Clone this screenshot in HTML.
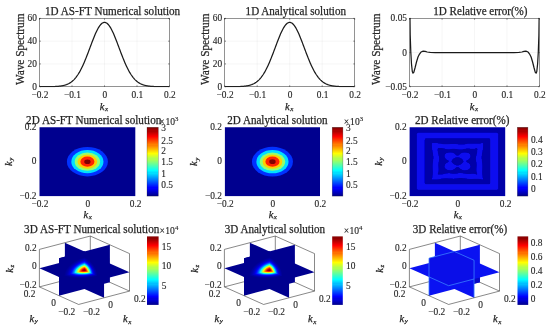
<!DOCTYPE html>
<html><head><meta charset="utf-8"><style>
html,body{margin:0;padding:0;background:#fff;}
svg{display:block;will-change:transform;}
text{font-family:"Liberation Serif",serif;fill:#262626;stroke:#262626;stroke-width:0.25px;}
text.tk{stroke-width:0.12px;}
</style></head><body>
<svg width="550" height="327" viewBox="0 0 550 327">
<defs><radialGradient id="blob" gradientUnits="userSpaceOnUse" cx="0" cy="0" r="0.7"><stop offset="0.0000" stop-color="#800000"/><stop offset="0.0250" stop-color="#940000"/><stop offset="0.0500" stop-color="#a80000"/><stop offset="0.0750" stop-color="#bc0000"/><stop offset="0.1000" stop-color="#d00000"/><stop offset="0.1250" stop-color="#f90000"/><stop offset="0.1500" stop-color="#ff2300"/><stop offset="0.1750" stop-color="#ff4c00"/><stop offset="0.2000" stop-color="#ff7500"/><stop offset="0.2250" stop-color="#ffa000"/><stop offset="0.2500" stop-color="#ffca00"/><stop offset="0.2750" stop-color="#fff400"/><stop offset="0.3000" stop-color="#e0ff1f"/><stop offset="0.3250" stop-color="#b6ff49"/><stop offset="0.3500" stop-color="#85ff7a"/><stop offset="0.3750" stop-color="#54ffab"/><stop offset="0.4000" stop-color="#23ffdc"/><stop offset="0.4250" stop-color="#00f6ff"/><stop offset="0.4500" stop-color="#00caff"/><stop offset="0.4750" stop-color="#009eff"/><stop offset="0.5000" stop-color="#007cff"/><stop offset="0.5250" stop-color="#0060ff"/><stop offset="0.5500" stop-color="#0044ff"/><stop offset="0.5750" stop-color="#0029ff"/><stop offset="0.6000" stop-color="#0014ff"/><stop offset="0.6250" stop-color="#0003ff"/><stop offset="0.6500" stop-color="#0000f2"/><stop offset="0.6750" stop-color="#0000e1"/><stop offset="0.7000" stop-color="#0000d1"/><stop offset="0.7250" stop-color="#0000c8"/><stop offset="0.7500" stop-color="#0000bf"/><stop offset="0.7750" stop-color="#0000b6"/><stop offset="0.8000" stop-color="#0000ae"/><stop offset="0.8250" stop-color="#0000a6"/><stop offset="0.8500" stop-color="#0000a2"/><stop offset="0.8750" stop-color="#00009d"/><stop offset="0.9000" stop-color="#000098"/><stop offset="0.9250" stop-color="#000093"/><stop offset="0.9500" stop-color="#00008f"/><stop offset="0.9750" stop-color="#00008f"/><stop offset="1.0000" stop-color="#00008f"/></radialGradient><linearGradient id="jetgrad" x1="0" y1="0" x2="0" y2="1"><stop offset="0.00000" stop-color="#800000"/><stop offset="0.01562" stop-color="#800000"/><stop offset="0.01562" stop-color="#8f0000"/><stop offset="0.03125" stop-color="#8f0000"/><stop offset="0.03125" stop-color="#9f0000"/><stop offset="0.04688" stop-color="#9f0000"/><stop offset="0.04688" stop-color="#af0000"/><stop offset="0.06250" stop-color="#af0000"/><stop offset="0.06250" stop-color="#bf0000"/><stop offset="0.07812" stop-color="#bf0000"/><stop offset="0.07812" stop-color="#cf0000"/><stop offset="0.09375" stop-color="#cf0000"/><stop offset="0.09375" stop-color="#df0000"/><stop offset="0.10938" stop-color="#df0000"/><stop offset="0.10938" stop-color="#ef0000"/><stop offset="0.12500" stop-color="#ef0000"/><stop offset="0.12500" stop-color="#ff0000"/><stop offset="0.14062" stop-color="#ff0000"/><stop offset="0.14062" stop-color="#ff1000"/><stop offset="0.15625" stop-color="#ff1000"/><stop offset="0.15625" stop-color="#ff2000"/><stop offset="0.17188" stop-color="#ff2000"/><stop offset="0.17188" stop-color="#ff3000"/><stop offset="0.18750" stop-color="#ff3000"/><stop offset="0.18750" stop-color="#ff4000"/><stop offset="0.20312" stop-color="#ff4000"/><stop offset="0.20312" stop-color="#ff5000"/><stop offset="0.21875" stop-color="#ff5000"/><stop offset="0.21875" stop-color="#ff6000"/><stop offset="0.23438" stop-color="#ff6000"/><stop offset="0.23438" stop-color="#ff7000"/><stop offset="0.25000" stop-color="#ff7000"/><stop offset="0.25000" stop-color="#ff8000"/><stop offset="0.26562" stop-color="#ff8000"/><stop offset="0.26562" stop-color="#ff8f00"/><stop offset="0.28125" stop-color="#ff8f00"/><stop offset="0.28125" stop-color="#ff9f00"/><stop offset="0.29688" stop-color="#ff9f00"/><stop offset="0.29688" stop-color="#ffaf00"/><stop offset="0.31250" stop-color="#ffaf00"/><stop offset="0.31250" stop-color="#ffbf00"/><stop offset="0.32812" stop-color="#ffbf00"/><stop offset="0.32812" stop-color="#ffcf00"/><stop offset="0.34375" stop-color="#ffcf00"/><stop offset="0.34375" stop-color="#ffdf00"/><stop offset="0.35938" stop-color="#ffdf00"/><stop offset="0.35938" stop-color="#ffef00"/><stop offset="0.37500" stop-color="#ffef00"/><stop offset="0.37500" stop-color="#ffff00"/><stop offset="0.39062" stop-color="#ffff00"/><stop offset="0.39062" stop-color="#efff10"/><stop offset="0.40625" stop-color="#efff10"/><stop offset="0.40625" stop-color="#dfff20"/><stop offset="0.42188" stop-color="#dfff20"/><stop offset="0.42188" stop-color="#cfff30"/><stop offset="0.43750" stop-color="#cfff30"/><stop offset="0.43750" stop-color="#bfff40"/><stop offset="0.45312" stop-color="#bfff40"/><stop offset="0.45312" stop-color="#afff50"/><stop offset="0.46875" stop-color="#afff50"/><stop offset="0.46875" stop-color="#9fff60"/><stop offset="0.48438" stop-color="#9fff60"/><stop offset="0.48438" stop-color="#8fff70"/><stop offset="0.50000" stop-color="#8fff70"/><stop offset="0.50000" stop-color="#80ff80"/><stop offset="0.51562" stop-color="#80ff80"/><stop offset="0.51562" stop-color="#70ff8f"/><stop offset="0.53125" stop-color="#70ff8f"/><stop offset="0.53125" stop-color="#60ff9f"/><stop offset="0.54688" stop-color="#60ff9f"/><stop offset="0.54688" stop-color="#50ffaf"/><stop offset="0.56250" stop-color="#50ffaf"/><stop offset="0.56250" stop-color="#40ffbf"/><stop offset="0.57812" stop-color="#40ffbf"/><stop offset="0.57812" stop-color="#30ffcf"/><stop offset="0.59375" stop-color="#30ffcf"/><stop offset="0.59375" stop-color="#20ffdf"/><stop offset="0.60938" stop-color="#20ffdf"/><stop offset="0.60938" stop-color="#10ffef"/><stop offset="0.62500" stop-color="#10ffef"/><stop offset="0.62500" stop-color="#00ffff"/><stop offset="0.64062" stop-color="#00ffff"/><stop offset="0.64062" stop-color="#00efff"/><stop offset="0.65625" stop-color="#00efff"/><stop offset="0.65625" stop-color="#00dfff"/><stop offset="0.67188" stop-color="#00dfff"/><stop offset="0.67188" stop-color="#00cfff"/><stop offset="0.68750" stop-color="#00cfff"/><stop offset="0.68750" stop-color="#00bfff"/><stop offset="0.70312" stop-color="#00bfff"/><stop offset="0.70312" stop-color="#00afff"/><stop offset="0.71875" stop-color="#00afff"/><stop offset="0.71875" stop-color="#009fff"/><stop offset="0.73438" stop-color="#009fff"/><stop offset="0.73438" stop-color="#008fff"/><stop offset="0.75000" stop-color="#008fff"/><stop offset="0.75000" stop-color="#0080ff"/><stop offset="0.76562" stop-color="#0080ff"/><stop offset="0.76562" stop-color="#0070ff"/><stop offset="0.78125" stop-color="#0070ff"/><stop offset="0.78125" stop-color="#0060ff"/><stop offset="0.79688" stop-color="#0060ff"/><stop offset="0.79688" stop-color="#0050ff"/><stop offset="0.81250" stop-color="#0050ff"/><stop offset="0.81250" stop-color="#0040ff"/><stop offset="0.82812" stop-color="#0040ff"/><stop offset="0.82812" stop-color="#0030ff"/><stop offset="0.84375" stop-color="#0030ff"/><stop offset="0.84375" stop-color="#0020ff"/><stop offset="0.85938" stop-color="#0020ff"/><stop offset="0.85938" stop-color="#0010ff"/><stop offset="0.87500" stop-color="#0010ff"/><stop offset="0.87500" stop-color="#0000ff"/><stop offset="0.89062" stop-color="#0000ff"/><stop offset="0.89062" stop-color="#0000ef"/><stop offset="0.90625" stop-color="#0000ef"/><stop offset="0.90625" stop-color="#0000df"/><stop offset="0.92188" stop-color="#0000df"/><stop offset="0.92188" stop-color="#0000cf"/><stop offset="0.93750" stop-color="#0000cf"/><stop offset="0.93750" stop-color="#0000bf"/><stop offset="0.95312" stop-color="#0000bf"/><stop offset="0.95312" stop-color="#0000af"/><stop offset="0.96875" stop-color="#0000af"/><stop offset="0.96875" stop-color="#00009f"/><stop offset="0.98438" stop-color="#00009f"/><stop offset="0.98438" stop-color="#00008f"/><stop offset="1.00000" stop-color="#00008f"/></linearGradient><filter id="blur1" x="-10%" y="-10%" width="120%" height="120%"><feGaussianBlur stdDeviation="0.45"/></filter></defs>
<rect width="550" height="327" fill="#fff"/>
<line x1="72.00" y1="18.4" x2="72.00" y2="86.7" stroke="#262626" stroke-opacity="0.08" stroke-width="0.6"/>
<line x1="104.50" y1="18.4" x2="104.50" y2="86.7" stroke="#262626" stroke-opacity="0.08" stroke-width="0.6"/>
<line x1="137.00" y1="18.4" x2="137.00" y2="86.7" stroke="#262626" stroke-opacity="0.08" stroke-width="0.6"/>
<line x1="39.5" y1="41.17" x2="169.5" y2="41.17" stroke="#262626" stroke-opacity="0.08" stroke-width="0.6"/>
<line x1="39.5" y1="63.93" x2="169.5" y2="63.93" stroke="#262626" stroke-opacity="0.08" stroke-width="0.6"/>
<clipPath id="c1_0"><rect x="39.5" y="17.9" width="130.0" height="69.30000000000001"/></clipPath>
<path d="M39.50,86.70 L40.00,86.70 L40.50,86.70 L41.00,86.70 L41.50,86.69 L42.00,86.69 L42.50,86.69 L43.00,86.69 L43.50,86.69 L44.00,86.69 L44.50,86.69 L45.00,86.69 L45.50,86.68 L46.00,86.68 L46.50,86.68 L47.00,86.67 L47.50,86.67 L48.00,86.67 L48.50,86.66 L49.00,86.66 L49.50,86.65 L50.00,86.64 L50.50,86.64 L51.00,86.63 L51.50,86.62 L52.00,86.61 L52.50,86.59 L53.00,86.58 L53.50,86.56 L54.00,86.55 L54.50,86.53 L55.00,86.51 L55.50,86.48 L56.00,86.46 L56.50,86.43 L57.00,86.39 L57.50,86.36 L58.00,86.32 L58.50,86.27 L59.00,86.22 L59.50,86.17 L60.00,86.11 L60.50,86.04 L61.00,85.97 L61.50,85.89 L62.00,85.81 L62.50,85.72 L63.00,85.61 L63.50,85.50 L64.00,85.38 L64.50,85.25 L65.00,85.10 L65.50,84.95 L66.00,84.78 L66.50,84.60 L67.00,84.40 L67.50,84.19 L68.00,83.96 L68.50,83.72 L69.00,83.45 L69.50,83.17 L70.00,82.87 L70.50,82.54 L71.00,82.20 L71.50,81.83 L72.00,81.43 L72.50,81.02 L73.00,80.57 L73.50,80.10 L74.00,79.60 L74.50,79.07 L75.00,78.52 L75.50,77.93 L76.00,77.31 L76.50,76.66 L77.00,75.98 L77.50,75.26 L78.00,74.52 L78.50,73.73 L79.00,72.92 L79.50,72.07 L80.00,71.19 L80.50,70.27 L81.00,69.32 L81.50,68.33 L82.00,67.32 L82.50,66.27 L83.00,65.19 L83.50,64.08 L84.00,62.94 L84.50,61.77 L85.00,60.57 L85.50,59.35 L86.00,58.11 L86.50,56.85 L87.00,55.57 L87.50,54.27 L88.00,52.96 L88.50,51.63 L89.00,50.30 L89.50,48.96 L90.00,47.62 L90.50,46.27 L91.00,44.94 L91.50,43.60 L92.00,42.28 L92.50,40.97 L93.00,39.68 L93.50,38.41 L94.00,37.17 L94.50,35.95 L95.00,34.77 L95.50,33.61 L96.00,32.50 L96.50,31.43 L97.00,30.41 L97.50,29.43 L98.00,28.51 L98.50,27.64 L99.00,26.83 L99.50,26.08 L100.00,25.40 L100.50,24.78 L101.00,24.22 L101.50,23.74 L102.00,23.33 L102.50,22.99 L103.00,22.73 L103.50,22.54 L104.00,22.42 L104.50,22.38 L105.00,22.42 L105.50,22.54 L106.00,22.73 L106.50,22.99 L107.00,23.33 L107.50,23.74 L108.00,24.22 L108.50,24.78 L109.00,25.40 L109.50,26.08 L110.00,26.83 L110.50,27.64 L111.00,28.51 L111.50,29.43 L112.00,30.41 L112.50,31.43 L113.00,32.50 L113.50,33.61 L114.00,34.77 L114.50,35.95 L115.00,37.17 L115.50,38.41 L116.00,39.68 L116.50,40.97 L117.00,42.28 L117.50,43.60 L118.00,44.94 L118.50,46.27 L119.00,47.62 L119.50,48.96 L120.00,50.30 L120.50,51.63 L121.00,52.96 L121.50,54.27 L122.00,55.57 L122.50,56.85 L123.00,58.11 L123.50,59.35 L124.00,60.57 L124.50,61.77 L125.00,62.94 L125.50,64.08 L126.00,65.19 L126.50,66.27 L127.00,67.32 L127.50,68.33 L128.00,69.32 L128.50,70.27 L129.00,71.19 L129.50,72.07 L130.00,72.92 L130.50,73.73 L131.00,74.52 L131.50,75.26 L132.00,75.98 L132.50,76.66 L133.00,77.31 L133.50,77.93 L134.00,78.52 L134.50,79.07 L135.00,79.60 L135.50,80.10 L136.00,80.57 L136.50,81.02 L137.00,81.43 L137.50,81.83 L138.00,82.20 L138.50,82.54 L139.00,82.87 L139.50,83.17 L140.00,83.45 L140.50,83.72 L141.00,83.96 L141.50,84.19 L142.00,84.40 L142.50,84.60 L143.00,84.78 L143.50,84.95 L144.00,85.10 L144.50,85.25 L145.00,85.38 L145.50,85.50 L146.00,85.61 L146.50,85.72 L147.00,85.81 L147.50,85.89 L148.00,85.97 L148.50,86.04 L149.00,86.11 L149.50,86.17 L150.00,86.22 L150.50,86.27 L151.00,86.32 L151.50,86.36 L152.00,86.39 L152.50,86.43 L153.00,86.46 L153.50,86.48 L154.00,86.51 L154.50,86.53 L155.00,86.55 L155.50,86.56 L156.00,86.58 L156.50,86.59 L157.00,86.61 L157.50,86.62 L158.00,86.63 L158.50,86.64 L159.00,86.64 L159.50,86.65 L160.00,86.66 L160.50,86.66 L161.00,86.67 L161.50,86.67 L162.00,86.67 L162.50,86.68 L163.00,86.68 L163.50,86.68 L164.00,86.69 L164.50,86.69 L165.00,86.69 L165.50,86.69 L166.00,86.69 L166.50,86.69 L167.00,86.69 L167.50,86.69 L168.00,86.70 L168.50,86.70 L169.00,86.70 L169.50,86.70" fill="none" stroke="#1a1a1a" stroke-width="1.25" stroke-linejoin="round" clip-path="url(#c1_0)"/>
<rect x="39.5" y="18.4" width="130.0" height="68.30000000000001" fill="none" stroke="#262626" stroke-width="0.5"/>
<line x1="39.50" y1="86.7" x2="39.50" y2="85.4" stroke="#262626" stroke-width="0.6"/>
<line x1="39.50" y1="18.4" x2="39.50" y2="19.7" stroke="#262626" stroke-width="0.6"/>
<line x1="72.00" y1="86.7" x2="72.00" y2="85.4" stroke="#262626" stroke-width="0.6"/>
<line x1="72.00" y1="18.4" x2="72.00" y2="19.7" stroke="#262626" stroke-width="0.6"/>
<line x1="104.50" y1="86.7" x2="104.50" y2="85.4" stroke="#262626" stroke-width="0.6"/>
<line x1="104.50" y1="18.4" x2="104.50" y2="19.7" stroke="#262626" stroke-width="0.6"/>
<line x1="137.00" y1="86.7" x2="137.00" y2="85.4" stroke="#262626" stroke-width="0.6"/>
<line x1="137.00" y1="18.4" x2="137.00" y2="19.7" stroke="#262626" stroke-width="0.6"/>
<line x1="169.50" y1="86.7" x2="169.50" y2="85.4" stroke="#262626" stroke-width="0.6"/>
<line x1="169.50" y1="18.4" x2="169.50" y2="19.7" stroke="#262626" stroke-width="0.6"/>
<line x1="39.5" y1="18.40" x2="40.8" y2="18.40" stroke="#262626" stroke-width="0.6"/>
<line x1="169.5" y1="18.40" x2="168.2" y2="18.40" stroke="#262626" stroke-width="0.6"/>
<line x1="39.5" y1="41.17" x2="40.8" y2="41.17" stroke="#262626" stroke-width="0.6"/>
<line x1="169.5" y1="41.17" x2="168.2" y2="41.17" stroke="#262626" stroke-width="0.6"/>
<line x1="39.5" y1="63.93" x2="40.8" y2="63.93" stroke="#262626" stroke-width="0.6"/>
<line x1="169.5" y1="63.93" x2="168.2" y2="63.93" stroke="#262626" stroke-width="0.6"/>
<line x1="39.5" y1="86.70" x2="40.8" y2="86.70" stroke="#262626" stroke-width="0.6"/>
<line x1="169.5" y1="86.70" x2="168.2" y2="86.70" stroke="#262626" stroke-width="0.6"/>
<text x="39.90" y="98.40" font-size="9.4" text-anchor="middle"  class="tk">−0.2</text>
<text x="72.40" y="98.40" font-size="9.4" text-anchor="middle"  class="tk">−0.1</text>
<text x="104.90" y="98.40" font-size="9.4" text-anchor="middle"  class="tk">0</text>
<text x="137.40" y="98.40" font-size="9.4" text-anchor="middle"  class="tk">0.1</text>
<text x="169.90" y="98.40" font-size="9.4" text-anchor="middle"  class="tk">0.2</text>
<text x="36.90" y="20.80" font-size="9.4" text-anchor="end"  class="tk">60</text>
<text x="36.90" y="43.80" font-size="9.4" text-anchor="end"  class="tk">40</text>
<text x="36.90" y="66.80" font-size="9.4" text-anchor="end"  class="tk">20</text>
<text x="36.90" y="90.00" font-size="9.4" text-anchor="end"  class="tk">0</text>
<text x="103.90" y="110.20" font-size="10.5" text-anchor="middle" font-style="italic">k<tspan font-size="6.93" dy="1.26" dx="0.5">x</tspan></text>
<text x="23.80" y="49.3" font-size="11.9" text-anchor="middle" textLength="71.6" lengthAdjust="spacingAndGlyphs" transform="rotate(-90 23.80 49.3)">Wave Spectrum</text>
<text x="45.00" y="15.00" font-size="11.7" textLength="135.2" lengthAdjust="spacingAndGlyphs">1D AS-FT Numerical solution</text>
<line x1="257.20" y1="18.4" x2="257.20" y2="86.7" stroke="#262626" stroke-opacity="0.08" stroke-width="0.6"/>
<line x1="289.70" y1="18.4" x2="289.70" y2="86.7" stroke="#262626" stroke-opacity="0.08" stroke-width="0.6"/>
<line x1="322.20" y1="18.4" x2="322.20" y2="86.7" stroke="#262626" stroke-opacity="0.08" stroke-width="0.6"/>
<line x1="224.7" y1="41.17" x2="354.7" y2="41.17" stroke="#262626" stroke-opacity="0.08" stroke-width="0.6"/>
<line x1="224.7" y1="63.93" x2="354.7" y2="63.93" stroke="#262626" stroke-opacity="0.08" stroke-width="0.6"/>
<clipPath id="c1_1"><rect x="224.7" y="17.9" width="130.0" height="69.30000000000001"/></clipPath>
<path d="M224.70,86.70 L225.20,86.70 L225.70,86.70 L226.20,86.70 L226.70,86.69 L227.20,86.69 L227.70,86.69 L228.20,86.69 L228.70,86.69 L229.20,86.69 L229.70,86.69 L230.20,86.69 L230.70,86.68 L231.20,86.68 L231.70,86.68 L232.20,86.67 L232.70,86.67 L233.20,86.67 L233.70,86.66 L234.20,86.66 L234.70,86.65 L235.20,86.64 L235.70,86.64 L236.20,86.63 L236.70,86.62 L237.20,86.61 L237.70,86.59 L238.20,86.58 L238.70,86.56 L239.20,86.55 L239.70,86.53 L240.20,86.51 L240.70,86.48 L241.20,86.46 L241.70,86.43 L242.20,86.39 L242.70,86.36 L243.20,86.32 L243.70,86.27 L244.20,86.22 L244.70,86.17 L245.20,86.11 L245.70,86.04 L246.20,85.97 L246.70,85.89 L247.20,85.81 L247.70,85.72 L248.20,85.61 L248.70,85.50 L249.20,85.38 L249.70,85.25 L250.20,85.10 L250.70,84.95 L251.20,84.78 L251.70,84.60 L252.20,84.40 L252.70,84.19 L253.20,83.96 L253.70,83.72 L254.20,83.45 L254.70,83.17 L255.20,82.87 L255.70,82.54 L256.20,82.20 L256.70,81.83 L257.20,81.43 L257.70,81.02 L258.20,80.57 L258.70,80.10 L259.20,79.60 L259.70,79.07 L260.20,78.52 L260.70,77.93 L261.20,77.31 L261.70,76.66 L262.20,75.98 L262.70,75.26 L263.20,74.52 L263.70,73.73 L264.20,72.92 L264.70,72.07 L265.20,71.19 L265.70,70.27 L266.20,69.32 L266.70,68.33 L267.20,67.32 L267.70,66.27 L268.20,65.19 L268.70,64.08 L269.20,62.94 L269.70,61.77 L270.20,60.57 L270.70,59.35 L271.20,58.11 L271.70,56.85 L272.20,55.57 L272.70,54.27 L273.20,52.96 L273.70,51.63 L274.20,50.30 L274.70,48.96 L275.20,47.62 L275.70,46.27 L276.20,44.94 L276.70,43.60 L277.20,42.28 L277.70,40.97 L278.20,39.68 L278.70,38.41 L279.20,37.17 L279.70,35.95 L280.20,34.77 L280.70,33.61 L281.20,32.50 L281.70,31.43 L282.20,30.41 L282.70,29.43 L283.20,28.51 L283.70,27.64 L284.20,26.83 L284.70,26.08 L285.20,25.40 L285.70,24.78 L286.20,24.22 L286.70,23.74 L287.20,23.33 L287.70,22.99 L288.20,22.73 L288.70,22.54 L289.20,22.42 L289.70,22.38 L290.20,22.42 L290.70,22.54 L291.20,22.73 L291.70,22.99 L292.20,23.33 L292.70,23.74 L293.20,24.22 L293.70,24.78 L294.20,25.40 L294.70,26.08 L295.20,26.83 L295.70,27.64 L296.20,28.51 L296.70,29.43 L297.20,30.41 L297.70,31.43 L298.20,32.50 L298.70,33.61 L299.20,34.77 L299.70,35.95 L300.20,37.17 L300.70,38.41 L301.20,39.68 L301.70,40.97 L302.20,42.28 L302.70,43.60 L303.20,44.94 L303.70,46.27 L304.20,47.62 L304.70,48.96 L305.20,50.30 L305.70,51.63 L306.20,52.96 L306.70,54.27 L307.20,55.57 L307.70,56.85 L308.20,58.11 L308.70,59.35 L309.20,60.57 L309.70,61.77 L310.20,62.94 L310.70,64.08 L311.20,65.19 L311.70,66.27 L312.20,67.32 L312.70,68.33 L313.20,69.32 L313.70,70.27 L314.20,71.19 L314.70,72.07 L315.20,72.92 L315.70,73.73 L316.20,74.52 L316.70,75.26 L317.20,75.98 L317.70,76.66 L318.20,77.31 L318.70,77.93 L319.20,78.52 L319.70,79.07 L320.20,79.60 L320.70,80.10 L321.20,80.57 L321.70,81.02 L322.20,81.43 L322.70,81.83 L323.20,82.20 L323.70,82.54 L324.20,82.87 L324.70,83.17 L325.20,83.45 L325.70,83.72 L326.20,83.96 L326.70,84.19 L327.20,84.40 L327.70,84.60 L328.20,84.78 L328.70,84.95 L329.20,85.10 L329.70,85.25 L330.20,85.38 L330.70,85.50 L331.20,85.61 L331.70,85.72 L332.20,85.81 L332.70,85.89 L333.20,85.97 L333.70,86.04 L334.20,86.11 L334.70,86.17 L335.20,86.22 L335.70,86.27 L336.20,86.32 L336.70,86.36 L337.20,86.39 L337.70,86.43 L338.20,86.46 L338.70,86.48 L339.20,86.51 L339.70,86.53 L340.20,86.55 L340.70,86.56 L341.20,86.58 L341.70,86.59 L342.20,86.61 L342.70,86.62 L343.20,86.63 L343.70,86.64 L344.20,86.64 L344.70,86.65 L345.20,86.66 L345.70,86.66 L346.20,86.67 L346.70,86.67 L347.20,86.67 L347.70,86.68 L348.20,86.68 L348.70,86.68 L349.20,86.69 L349.70,86.69 L350.20,86.69 L350.70,86.69 L351.20,86.69 L351.70,86.69 L352.20,86.69 L352.70,86.69 L353.20,86.70 L353.70,86.70 L354.20,86.70 L354.70,86.70" fill="none" stroke="#1a1a1a" stroke-width="1.25" stroke-linejoin="round" clip-path="url(#c1_1)"/>
<rect x="224.7" y="18.4" width="130.0" height="68.30000000000001" fill="none" stroke="#262626" stroke-width="0.5"/>
<line x1="224.70" y1="86.7" x2="224.70" y2="85.4" stroke="#262626" stroke-width="0.6"/>
<line x1="224.70" y1="18.4" x2="224.70" y2="19.7" stroke="#262626" stroke-width="0.6"/>
<line x1="257.20" y1="86.7" x2="257.20" y2="85.4" stroke="#262626" stroke-width="0.6"/>
<line x1="257.20" y1="18.4" x2="257.20" y2="19.7" stroke="#262626" stroke-width="0.6"/>
<line x1="289.70" y1="86.7" x2="289.70" y2="85.4" stroke="#262626" stroke-width="0.6"/>
<line x1="289.70" y1="18.4" x2="289.70" y2="19.7" stroke="#262626" stroke-width="0.6"/>
<line x1="322.20" y1="86.7" x2="322.20" y2="85.4" stroke="#262626" stroke-width="0.6"/>
<line x1="322.20" y1="18.4" x2="322.20" y2="19.7" stroke="#262626" stroke-width="0.6"/>
<line x1="354.70" y1="86.7" x2="354.70" y2="85.4" stroke="#262626" stroke-width="0.6"/>
<line x1="354.70" y1="18.4" x2="354.70" y2="19.7" stroke="#262626" stroke-width="0.6"/>
<line x1="224.7" y1="18.40" x2="226.0" y2="18.40" stroke="#262626" stroke-width="0.6"/>
<line x1="354.7" y1="18.40" x2="353.4" y2="18.40" stroke="#262626" stroke-width="0.6"/>
<line x1="224.7" y1="41.17" x2="226.0" y2="41.17" stroke="#262626" stroke-width="0.6"/>
<line x1="354.7" y1="41.17" x2="353.4" y2="41.17" stroke="#262626" stroke-width="0.6"/>
<line x1="224.7" y1="63.93" x2="226.0" y2="63.93" stroke="#262626" stroke-width="0.6"/>
<line x1="354.7" y1="63.93" x2="353.4" y2="63.93" stroke="#262626" stroke-width="0.6"/>
<line x1="224.7" y1="86.70" x2="226.0" y2="86.70" stroke="#262626" stroke-width="0.6"/>
<line x1="354.7" y1="86.70" x2="353.4" y2="86.70" stroke="#262626" stroke-width="0.6"/>
<text x="225.10" y="98.40" font-size="9.4" text-anchor="middle"  class="tk">−0.2</text>
<text x="257.60" y="98.40" font-size="9.4" text-anchor="middle"  class="tk">−0.1</text>
<text x="290.10" y="98.40" font-size="9.4" text-anchor="middle"  class="tk">0</text>
<text x="322.60" y="98.40" font-size="9.4" text-anchor="middle"  class="tk">0.1</text>
<text x="355.10" y="98.40" font-size="9.4" text-anchor="middle"  class="tk">0.2</text>
<text x="222.10" y="20.80" font-size="9.4" text-anchor="end"  class="tk">60</text>
<text x="222.10" y="43.80" font-size="9.4" text-anchor="end"  class="tk">40</text>
<text x="222.10" y="66.80" font-size="9.4" text-anchor="end"  class="tk">20</text>
<text x="222.10" y="90.00" font-size="9.4" text-anchor="end"  class="tk">0</text>
<text x="289.10" y="110.20" font-size="10.5" text-anchor="middle" font-style="italic">k<tspan font-size="6.93" dy="1.26" dx="0.5">x</tspan></text>
<text x="209.00" y="49.3" font-size="11.9" text-anchor="middle" textLength="71.6" lengthAdjust="spacingAndGlyphs" transform="rotate(-90 209.00 49.3)">Wave Spectrum</text>
<text x="245.60" y="15.00" font-size="11.7" textLength="100.4" lengthAdjust="spacingAndGlyphs">1D Analytical solution</text>
<line x1="442.08" y1="18.4" x2="442.08" y2="86.7" stroke="#262626" stroke-opacity="0.08" stroke-width="0.6"/>
<line x1="474.55" y1="18.4" x2="474.55" y2="86.7" stroke="#262626" stroke-opacity="0.08" stroke-width="0.6"/>
<line x1="507.02" y1="18.4" x2="507.02" y2="86.7" stroke="#262626" stroke-opacity="0.08" stroke-width="0.6"/>
<line x1="409.6" y1="52.55" x2="539.5" y2="52.55" stroke="#262626" stroke-opacity="0.08" stroke-width="0.6"/>
<clipPath id="c1_2"><rect x="409.6" y="17.9" width="129.89999999999998" height="69.30000000000001"/></clipPath>
<path d="M409.60,-10.00 L410.20,35.00 L410.80,52.00 L411.50,64.00 L412.30,71.50 L413.00,73.20 L413.80,72.30 L415.00,68.00 L416.50,62.00 L418.00,57.00 L419.50,54.00 L421.00,52.00 L423.20,51.20 L425.20,51.40 L427.20,52.00 L430.20,52.40 L435.20,52.55 L474.60,52.55 L513.90,52.55 L518.90,52.40 L521.90,52.00 L523.90,51.40 L525.90,51.20 L528.10,52.00 L529.60,54.00 L531.10,57.00 L532.60,62.00 L534.10,68.00 L535.30,72.30 L536.10,73.20 L536.80,71.50 L537.60,64.00 L538.30,52.00 L538.90,35.00 L539.50,-10.00" fill="none" stroke="#1a1a1a" stroke-width="1.25" stroke-linejoin="round" clip-path="url(#c1_2)"/>
<rect x="409.6" y="18.4" width="129.89999999999998" height="68.30000000000001" fill="none" stroke="#262626" stroke-width="0.5"/>
<line x1="409.60" y1="86.7" x2="409.60" y2="85.4" stroke="#262626" stroke-width="0.6"/>
<line x1="409.60" y1="18.4" x2="409.60" y2="19.7" stroke="#262626" stroke-width="0.6"/>
<line x1="442.08" y1="86.7" x2="442.08" y2="85.4" stroke="#262626" stroke-width="0.6"/>
<line x1="442.08" y1="18.4" x2="442.08" y2="19.7" stroke="#262626" stroke-width="0.6"/>
<line x1="474.55" y1="86.7" x2="474.55" y2="85.4" stroke="#262626" stroke-width="0.6"/>
<line x1="474.55" y1="18.4" x2="474.55" y2="19.7" stroke="#262626" stroke-width="0.6"/>
<line x1="507.02" y1="86.7" x2="507.02" y2="85.4" stroke="#262626" stroke-width="0.6"/>
<line x1="507.02" y1="18.4" x2="507.02" y2="19.7" stroke="#262626" stroke-width="0.6"/>
<line x1="539.50" y1="86.7" x2="539.50" y2="85.4" stroke="#262626" stroke-width="0.6"/>
<line x1="539.50" y1="18.4" x2="539.50" y2="19.7" stroke="#262626" stroke-width="0.6"/>
<line x1="409.6" y1="18.40" x2="410.90000000000003" y2="18.40" stroke="#262626" stroke-width="0.6"/>
<line x1="539.5" y1="18.40" x2="538.2" y2="18.40" stroke="#262626" stroke-width="0.6"/>
<line x1="409.6" y1="52.55" x2="410.90000000000003" y2="52.55" stroke="#262626" stroke-width="0.6"/>
<line x1="539.5" y1="52.55" x2="538.2" y2="52.55" stroke="#262626" stroke-width="0.6"/>
<line x1="409.6" y1="86.70" x2="410.90000000000003" y2="86.70" stroke="#262626" stroke-width="0.6"/>
<line x1="539.5" y1="86.70" x2="538.2" y2="86.70" stroke="#262626" stroke-width="0.6"/>
<text x="410.00" y="98.40" font-size="9.4" text-anchor="middle"  class="tk">−0.2</text>
<text x="442.48" y="98.40" font-size="9.4" text-anchor="middle"  class="tk">−0.1</text>
<text x="474.95" y="98.40" font-size="9.4" text-anchor="middle"  class="tk">0</text>
<text x="507.42" y="98.40" font-size="9.4" text-anchor="middle"  class="tk">0.1</text>
<text x="539.90" y="98.40" font-size="9.4" text-anchor="middle"  class="tk">0.2</text>
<text x="407.00" y="21.10" font-size="9.4" text-anchor="end"  class="tk">0.05</text>
<text x="407.00" y="55.70" font-size="9.4" text-anchor="end"  class="tk">0</text>
<text x="407.00" y="90.10" font-size="9.4" text-anchor="end"  class="tk">−0.05</text>
<text x="473.95" y="110.20" font-size="10.5" text-anchor="middle" font-style="italic">k<tspan font-size="6.93" dy="1.26" dx="0.5">x</tspan></text>
<text x="379.80" y="49.3" font-size="11.9" text-anchor="middle" textLength="71.6" lengthAdjust="spacingAndGlyphs" transform="rotate(-90 379.80 49.3)">Wave Spectrum</text>
<text x="433.20" y="15.00" font-size="11.7" textLength="94.4" lengthAdjust="spacingAndGlyphs">1D Relative error(%)</text>
<rect x="39.5" y="127.25" width="95.80" height="68.85" fill="#00008f"/>
<g filter="url(#blur1)">
<ellipse cx="87.40" cy="161.68" rx="20.50" ry="14.73" fill="#0030ff"/>
<ellipse cx="87.40" cy="161.68" rx="16.10" ry="11.57" fill="#00dfff"/>
<ellipse cx="87.40" cy="161.68" rx="12.70" ry="9.13" fill="#8fff6f"/>
<ellipse cx="87.40" cy="161.68" rx="9.90" ry="7.11" fill="#ffcf00"/>
<ellipse cx="87.40" cy="161.68" rx="7.05" ry="5.07" fill="#ff2000"/>
<ellipse cx="87.40" cy="161.68" rx="3.20" ry="2.30" fill="#800000"/>
</g>
<rect x="147.0" y="127.25" width="11.30" height="68.85" fill="url(#jetgrad)"/>
<rect x="147.0" y="127.25" width="11.30" height="68.85" fill="none" stroke="#262626" stroke-width="0.5" stroke-opacity="0.5"/>
<text x="39.90" y="207.30" font-size="9.4" text-anchor="middle"  class="tk">−0.2</text>
<text x="87.80" y="207.30" font-size="9.4" text-anchor="middle"  class="tk">0</text>
<text x="135.70" y="207.30" font-size="9.4" text-anchor="middle"  class="tk">0.2</text>
<text x="36.50" y="130.05" font-size="9.4" text-anchor="end"  class="tk">0.2</text>
<text x="36.50" y="164.48" font-size="9.4" text-anchor="end"  class="tk">0</text>
<text x="36.50" y="198.90" font-size="9.4" text-anchor="end"  class="tk">−0.2</text>
<text x="87.70" y="217.80" font-size="10.5" text-anchor="middle" font-style="italic">k<tspan font-size="6.93" dy="1.26" dx="0.5">x</tspan></text>
<text x="12.00" y="161.88" font-size="10.5" text-anchor="middle" font-style="italic" transform="rotate(-90 12.00 161.88)">k<tspan font-size="6.93" dy="1.26" dx="0.5">y</tspan></text>
<text x="26.10" y="123.50" font-size="11.7" textLength="135.2" lengthAdjust="spacingAndGlyphs">2D AS-FT Numerical solution</text>
<text x="161.30" y="130.90" font-size="9.4" text-anchor="start"  class="tk">3</text>
<text x="161.30" y="143.60" font-size="9.4" text-anchor="start"  class="tk">2.5</text>
<text x="161.30" y="153.60" font-size="9.4" text-anchor="start"  class="tk">2</text>
<text x="161.30" y="165.20" font-size="9.4" text-anchor="start"  class="tk">1.5</text>
<text x="161.30" y="176.70" font-size="9.4" text-anchor="start"  class="tk">1</text>
<text x="161.30" y="188.20" font-size="9.4" text-anchor="start"  class="tk">0.5</text>
<text x="159.20000000000002" y="125.0" font-size="9.6" class="tk">×<tspan dx="0.9">10</tspan><tspan font-size="6.8" dy="-3.8">3</tspan></text>
<rect x="224.9" y="127.25" width="95.10" height="68.85" fill="#00008f"/>
<g filter="url(#blur1)">
<ellipse cx="272.45" cy="161.68" rx="20.50" ry="14.84" fill="#0030ff"/>
<ellipse cx="272.45" cy="161.68" rx="16.10" ry="11.66" fill="#00dfff"/>
<ellipse cx="272.45" cy="161.68" rx="12.70" ry="9.19" fill="#8fff6f"/>
<ellipse cx="272.45" cy="161.68" rx="9.90" ry="7.17" fill="#ffcf00"/>
<ellipse cx="272.45" cy="161.68" rx="7.05" ry="5.10" fill="#ff2000"/>
<ellipse cx="272.45" cy="161.68" rx="3.20" ry="2.32" fill="#800000"/>
</g>
<rect x="332.2" y="127.25" width="10.70" height="68.85" fill="url(#jetgrad)"/>
<rect x="332.2" y="127.25" width="10.70" height="68.85" fill="none" stroke="#262626" stroke-width="0.5" stroke-opacity="0.5"/>
<text x="225.30" y="207.30" font-size="9.4" text-anchor="middle"  class="tk">−0.2</text>
<text x="272.85" y="207.30" font-size="9.4" text-anchor="middle"  class="tk">0</text>
<text x="320.40" y="207.30" font-size="9.4" text-anchor="middle"  class="tk">0.2</text>
<text x="221.90" y="130.05" font-size="9.4" text-anchor="end"  class="tk">0.2</text>
<text x="221.90" y="164.48" font-size="9.4" text-anchor="end"  class="tk">0</text>
<text x="221.90" y="198.90" font-size="9.4" text-anchor="end"  class="tk">−0.2</text>
<text x="272.75" y="217.80" font-size="10.5" text-anchor="middle" font-style="italic">k<tspan font-size="6.93" dy="1.26" dx="0.5">x</tspan></text>
<text x="197.40" y="161.88" font-size="10.5" text-anchor="middle" font-style="italic" transform="rotate(-90 197.40 161.88)">k<tspan font-size="6.93" dy="1.26" dx="0.5">y</tspan></text>
<text x="227.20" y="123.50" font-size="11.7" textLength="100.4" lengthAdjust="spacingAndGlyphs">2D Analytical solution</text>
<text x="345.90" y="130.90" font-size="9.4" text-anchor="start"  class="tk">3</text>
<text x="345.90" y="143.60" font-size="9.4" text-anchor="start"  class="tk">2.5</text>
<text x="345.90" y="153.60" font-size="9.4" text-anchor="start"  class="tk">2</text>
<text x="345.90" y="165.20" font-size="9.4" text-anchor="start"  class="tk">1.5</text>
<text x="345.90" y="176.70" font-size="9.4" text-anchor="start"  class="tk">1</text>
<text x="345.90" y="188.20" font-size="9.4" text-anchor="start"  class="tk">0.5</text>
<text x="343.79999999999995" y="125.0" font-size="9.6" class="tk">×<tspan dx="0.9">10</tspan><tspan font-size="6.8" dy="-3.8">3</tspan></text>
<rect x="409.6" y="127.25" width="95.60" height="68.85" fill="#0000a8"/>
<g filter="url(#blur1)">
<rect x="416.85" y="132.85" width="81.30" height="56.90" rx="1.5" fill="#0a0af0"/>
<rect x="424.70" y="138.35" width="65.60" height="45.90" rx="1.5" fill="#0000a8"/>
<polygon points="432.50,143.70 434.58,143.64 436.67,143.72 438.75,143.98 440.83,144.37 442.92,144.74 445.00,144.95 447.08,144.94 449.17,144.77 451.25,144.58 453.33,144.52 455.42,144.64 457.50,144.90 459.58,145.14 461.67,145.22 463.75,145.07 465.83,144.77 467.92,144.44 470.00,144.25 472.08,144.24 474.17,144.37 476.25,144.47 478.33,144.42 480.42,144.14 482.50,143.70 482.48,145.17 482.44,146.63 482.33,148.10 482.14,149.57 481.88,151.03 481.60,152.50 481.33,153.97 481.13,155.43 481.02,156.90 481.03,158.37 481.13,159.83 481.30,161.30 481.48,162.77 481.64,164.23 481.73,165.70 481.74,167.17 481.68,168.63 481.60,170.10 481.53,171.57 481.53,173.03 481.62,174.50 481.83,175.97 482.13,177.43 482.50,178.90 480.42,178.46 478.33,178.18 476.25,178.13 474.17,178.23 472.08,178.36 470.00,178.35 467.92,178.16 465.83,177.83 463.75,177.53 461.67,177.38 459.58,177.46 457.50,177.70 455.42,177.96 453.33,178.08 451.25,178.02 449.17,177.83 447.08,177.66 445.00,177.65 442.92,177.86 440.83,178.23 438.75,178.62 436.67,178.88 434.58,178.96 432.50,178.90 432.87,177.43 433.17,175.97 433.38,174.50 433.47,173.03 433.47,171.57 433.40,170.10 433.32,168.63 433.26,167.17 433.27,165.70 433.36,164.23 433.52,162.77 433.70,161.30 433.87,159.83 433.97,158.37 433.98,156.90 433.87,155.43 433.67,153.97 433.40,152.50 433.12,151.03 432.86,149.57 432.67,148.10 432.56,146.63 432.52,145.17" fill="#0a0af0" stroke-linejoin="round" stroke="#0a0af0" stroke-width="1.2"/>
<polygon points="438.30,148.70 439.90,148.59 441.50,148.64 443.10,148.90 444.70,149.31 446.30,149.71 447.90,149.93 449.50,149.89 451.10,149.68 452.70,149.45 454.30,149.37 455.90,149.51 457.50,149.80 459.10,150.08 460.70,150.17 462.30,150.01 463.90,149.68 465.50,149.33 467.10,149.12 468.70,149.14 470.30,149.31 471.90,149.46 473.50,149.44 475.10,149.16 476.70,148.70 476.72,149.75 476.71,150.80 476.62,151.85 476.44,152.90 476.17,153.95 475.88,155.00 475.59,156.05 475.38,157.10 475.27,158.15 475.28,159.20 475.41,160.25 475.60,161.30 475.81,162.35 475.98,163.40 476.07,164.45 476.07,165.50 475.99,166.55 475.88,167.60 475.77,168.65 475.74,169.70 475.82,170.75 476.02,171.80 476.32,172.85 476.70,173.90 475.10,173.44 473.50,173.16 471.90,173.14 470.30,173.29 468.70,173.46 467.10,173.48 465.50,173.27 463.90,172.92 462.30,172.59 460.70,172.43 459.10,172.52 457.50,172.80 455.90,173.09 454.30,173.23 452.70,173.15 451.10,172.92 449.50,172.71 447.90,172.68 446.30,172.89 444.70,173.29 443.10,173.70 441.50,173.96 439.90,174.01 438.30,173.90 438.68,172.85 438.98,171.80 439.18,170.75 439.26,169.70 439.23,168.65 439.12,167.60 439.01,166.55 438.93,165.50 438.93,164.45 439.02,163.40 439.19,162.35 439.40,161.30 439.59,160.25 439.72,159.20 439.73,158.15 439.62,157.10 439.41,156.05 439.12,155.00 438.83,153.95 438.56,152.90 438.38,151.85 438.29,150.80 438.28,149.75" fill="#0000a8" stroke-linejoin="round" stroke="#0000a8" stroke-width="1.2"/>
<polygon points="466.20,161.30 466.31,161.68 466.64,162.08 467.15,162.55 467.79,163.09 468.48,163.72 469.14,164.43 469.71,165.21 470.10,166.03 470.27,166.85 470.18,167.62 469.81,168.31 469.17,168.88 468.29,169.30 467.23,169.54 466.03,169.60 464.77,169.49 463.52,169.23 462.32,168.87 461.23,168.43 460.26,167.99 459.42,167.57 458.70,167.24 458.08,167.03 457.50,166.96 456.92,167.03 456.30,167.24 455.58,167.57 454.74,167.99 453.77,168.43 452.68,168.87 451.48,169.23 450.23,169.49 448.97,169.60 447.77,169.54 446.71,169.30 445.83,168.88 445.19,168.31 444.82,167.62 444.73,166.85 444.90,166.03 445.29,165.21 445.86,164.43 446.52,163.72 447.21,163.09 447.85,162.55 448.36,162.08 448.69,161.68 448.80,161.30 448.69,160.92 448.36,160.52 447.85,160.05 447.21,159.51 446.52,158.88 445.86,158.17 445.29,157.39 444.90,156.57 444.73,155.75 444.82,154.98 445.19,154.29 445.83,153.72 446.71,153.30 447.77,153.06 448.97,153.00 450.22,153.11 451.48,153.37 452.68,153.73 453.77,154.17 454.74,154.61 455.58,155.03 456.30,155.36 456.92,155.57 457.50,155.65 458.08,155.57 458.70,155.36 459.42,155.03 460.26,154.61 461.23,154.17 462.32,153.73 463.52,153.37 464.77,153.11 466.03,153.00 467.23,153.06 468.29,153.30 469.17,153.72 469.81,154.29 470.18,154.98 470.27,155.75 470.10,156.57 469.71,157.39 469.14,158.17 468.48,158.88 467.79,159.51 467.15,160.05 466.64,160.52 466.31,160.92" fill="#0a0af0" />
<ellipse cx="450.30" cy="156.40" rx="5.6" ry="4.0" fill="#0a0af0"/>
<ellipse cx="450.30" cy="166.20" rx="5.6" ry="4.0" fill="#0a0af0"/>
<ellipse cx="464.70" cy="156.40" rx="5.6" ry="4.0" fill="#0a0af0"/>
<ellipse cx="464.70" cy="166.20" rx="5.6" ry="4.0" fill="#0a0af0"/>
<polygon points="463.50,161.30 463.46,161.53 463.36,161.84 463.18,162.19 462.93,162.56 462.63,162.94 462.26,163.31 461.85,163.68 461.39,164.02 460.90,164.34 460.38,164.63 459.84,164.89 459.31,165.10 458.78,165.28 458.28,165.40 457.83,165.47 457.50,165.50 457.17,165.47 456.72,165.40 456.22,165.28 455.69,165.10 455.16,164.89 454.62,164.63 454.10,164.34 453.61,164.02 453.15,163.68 452.74,163.31 452.37,162.94 452.07,162.56 451.82,162.19 451.64,161.84 451.54,161.53 451.50,161.30 451.54,161.07 451.64,160.76 451.82,160.41 452.07,160.04 452.37,159.66 452.74,159.29 453.15,158.92 453.61,158.58 454.10,158.26 454.62,157.97 455.16,157.71 455.69,157.50 456.22,157.32 456.72,157.20 457.17,157.13 457.50,157.10 457.83,157.13 458.28,157.20 458.78,157.32 459.31,157.50 459.84,157.71 460.38,157.97 460.90,158.26 461.39,158.58 461.85,158.92 462.26,159.29 462.63,159.66 462.93,160.04 463.18,160.41 463.36,160.76 463.46,161.07" fill="#0000a8" />
</g>
<rect x="517.3" y="127.25" width="10.60" height="68.85" fill="url(#jetgrad)"/>
<rect x="517.3" y="127.25" width="10.60" height="68.85" fill="none" stroke="#262626" stroke-width="0.5" stroke-opacity="0.5"/>
<text x="410.00" y="207.30" font-size="9.4" text-anchor="middle"  class="tk">−0.2</text>
<text x="457.80" y="207.30" font-size="9.4" text-anchor="middle"  class="tk">0</text>
<text x="505.60" y="207.30" font-size="9.4" text-anchor="middle"  class="tk">0.2</text>
<text x="406.60" y="130.05" font-size="9.4" text-anchor="end"  class="tk">0.2</text>
<text x="406.60" y="164.48" font-size="9.4" text-anchor="end"  class="tk">0</text>
<text x="406.60" y="198.90" font-size="9.4" text-anchor="end"  class="tk">−0.2</text>
<text x="457.80" y="217.80" font-size="10.5" text-anchor="middle" font-style="italic">k<tspan font-size="6.93" dy="1.26" dx="0.5">x</tspan></text>
<text x="382.10" y="161.50" font-size="10.5" text-anchor="middle" font-style="italic" transform="rotate(-90 382.10 161.50)">k<tspan font-size="6.93" dy="1.26" dx="0.5">y</tspan></text>
<text x="415.00" y="123.50" font-size="11.7" textLength="94.4" lengthAdjust="spacingAndGlyphs">2D Relative error(%)</text>
<text x="530.90" y="142.90" font-size="9.4" text-anchor="start"  class="tk">0.4</text>
<text x="530.90" y="155.20" font-size="9.4" text-anchor="start"  class="tk">0.3</text>
<text x="530.90" y="167.40" font-size="9.4" text-anchor="start"  class="tk">0.2</text>
<text x="530.90" y="179.70" font-size="9.4" text-anchor="start"  class="tk">0.1</text>
<text x="530.90" y="191.90" font-size="9.4" text-anchor="start"  class="tk">0</text>
<line x1="39.40" y1="286.90" x2="90.30" y2="273.54" stroke="#262626" stroke-width="0.55" />
<line x1="90.30" y1="273.54" x2="129.50" y2="291.10" stroke="#262626" stroke-width="0.55" />
<line x1="90.30" y1="273.54" x2="90.30" y2="236.04" stroke="#262626" stroke-width="0.55" />
<line x1="39.40" y1="249.40" x2="90.30" y2="236.04" stroke="#262626" stroke-width="0.55" />
<line x1="90.30" y1="236.04" x2="129.50" y2="253.60" stroke="#262626" stroke-width="0.55" />
<polygon points="39.40,268.15 90.30,254.79 129.50,272.35 78.60,285.71" fill="#00008f" />
<polygon points="64.85,242.72 104.05,260.28 104.05,297.78 64.85,280.22" fill="#00008f" />
<polygon points="109.90,244.82 59.00,258.18 59.00,295.68 109.90,282.32" fill="#00008f" />
<clipPath id="f3_0_0"><polygon points="84.74,269.48 58.02,276.49 78.60,285.71 105.32,278.70"/></clipPath>
<g clip-path="url(#f3_0_0)"><rect x="-0.1" y="-0.1" width="1.2" height="1.2" fill="url(#blob)" transform="matrix(-30.5400,8.0160,19.6000,8.7800,84.450,270.250)" /></g>
<clipPath id="f3_0_1"><polygon points="83.47,269.81 104.05,279.03 104.05,260.28 83.47,251.06"/></clipPath>
<g clip-path="url(#f3_0_1)"><rect x="-0.1" y="-0.1" width="1.2" height="1.2" fill="url(#blob)" transform="matrix(19.6000,8.7800,0.0000,-19.6875,84.450,270.250)" /></g>
<clipPath id="f3_0_2"><polygon points="84.45,270.25 59.00,276.93 59.00,258.18 84.45,251.50"/></clipPath>
<g clip-path="url(#f3_0_2)"><rect x="-0.1" y="-0.1" width="1.2" height="1.2" fill="url(#blob)" transform="matrix(-30.5400,8.0160,0.0000,-19.6875,84.450,270.250)" /></g>
<line x1="39.40" y1="286.90" x2="78.60" y2="304.46" stroke="#262626" stroke-width="0.55" />
<line x1="78.60" y1="304.46" x2="129.50" y2="291.10" stroke="#262626" stroke-width="0.55" />
<line x1="39.40" y1="286.90" x2="39.40" y2="249.40" stroke="#262626" stroke-width="0.55" />
<line x1="129.50" y1="291.10" x2="129.50" y2="253.60" stroke="#262626" stroke-width="0.55" />
<text x="36.60" y="251.15" font-size="9.4" text-anchor="end"  class="tk">0.2</text>
<text x="36.60" y="269.40" font-size="9.4" text-anchor="end"  class="tk">0</text>
<text x="36.60" y="288.10" font-size="9.4" text-anchor="end"  class="tk">−0.2</text>
<text x="35.40" y="297.00" font-size="9.4" text-anchor="end"  class="tk">0.2</text>
<text x="55.90" y="305.80" font-size="9.4" text-anchor="end"  class="tk">0</text>
<text x="75.20" y="314.70" font-size="9.4" text-anchor="end"  class="tk">−0.2</text>
<text x="83.00" y="314.80" font-size="9.4" text-anchor="start"  class="tk">−0.2</text>
<text x="108.30" y="308.10" font-size="9.4" text-anchor="start"  class="tk">0</text>
<text x="133.90" y="301.80" font-size="9.4" text-anchor="start"  class="tk">0.2</text>
<text x="29.50" y="321.70" font-size="10.5" text-anchor="start" font-style="italic">k<tspan font-size="6.93" dy="1.26" dx="0.5">y</tspan></text>
<text x="123.00" y="322.30" font-size="10.5" text-anchor="start" font-style="italic">k<tspan font-size="6.93" dy="1.26" dx="0.5">x</tspan></text>
<text x="12.90" y="268.80" font-size="10.5" text-anchor="middle" font-style="italic" transform="rotate(-90 12.90 268.80)">k<tspan font-size="6.93" dy="1.26" dx="0.5">z</tspan></text>
<text x="24.10" y="232.70" font-size="11.7" textLength="135.2" lengthAdjust="spacingAndGlyphs">3D AS-FT Numerical solution</text>
<rect x="147.0" y="236.4" width="11.60" height="68.50" fill="url(#jetgrad)"/>
<text x="161.80" y="249.90" font-size="9.4" text-anchor="start"  class="tk">15</text>
<text x="161.80" y="269.40" font-size="9.4" text-anchor="start"  class="tk">10</text>
<text x="161.80" y="289.00" font-size="9.4" text-anchor="start"  class="tk">5</text>
<text x="159.5" y="233.8" font-size="9.6" class="tk">×<tspan dx="0.4">10</tspan><tspan font-size="6.8" dy="-3.8">4</tspan></text>
<line x1="224.40" y1="286.90" x2="275.30" y2="273.54" stroke="#262626" stroke-width="0.55" />
<line x1="275.30" y1="273.54" x2="314.50" y2="291.10" stroke="#262626" stroke-width="0.55" />
<line x1="275.30" y1="273.54" x2="275.30" y2="236.04" stroke="#262626" stroke-width="0.55" />
<line x1="224.40" y1="249.40" x2="275.30" y2="236.04" stroke="#262626" stroke-width="0.55" />
<line x1="275.30" y1="236.04" x2="314.50" y2="253.60" stroke="#262626" stroke-width="0.55" />
<polygon points="224.40,268.15 275.30,254.79 314.50,272.35 263.60,285.71" fill="#00008f" />
<polygon points="249.85,242.72 289.05,260.28 289.05,297.78 249.85,280.22" fill="#00008f" />
<polygon points="294.90,244.82 244.00,258.18 244.00,295.68 294.90,282.32" fill="#00008f" />
<clipPath id="f3_1_0"><polygon points="269.74,269.48 243.02,276.49 263.60,285.71 290.32,278.70"/></clipPath>
<g clip-path="url(#f3_1_0)"><rect x="-0.1" y="-0.1" width="1.2" height="1.2" fill="url(#blob)" transform="matrix(-30.5400,8.0160,19.6000,8.7800,269.450,270.250)" /></g>
<clipPath id="f3_1_1"><polygon points="268.47,269.81 289.05,279.03 289.05,260.28 268.47,251.06"/></clipPath>
<g clip-path="url(#f3_1_1)"><rect x="-0.1" y="-0.1" width="1.2" height="1.2" fill="url(#blob)" transform="matrix(19.6000,8.7800,0.0000,-19.6875,269.450,270.250)" /></g>
<clipPath id="f3_1_2"><polygon points="269.45,270.25 244.00,276.93 244.00,258.18 269.45,251.50"/></clipPath>
<g clip-path="url(#f3_1_2)"><rect x="-0.1" y="-0.1" width="1.2" height="1.2" fill="url(#blob)" transform="matrix(-30.5400,8.0160,0.0000,-19.6875,269.450,270.250)" /></g>
<line x1="224.40" y1="286.90" x2="263.60" y2="304.46" stroke="#262626" stroke-width="0.55" />
<line x1="263.60" y1="304.46" x2="314.50" y2="291.10" stroke="#262626" stroke-width="0.55" />
<line x1="224.40" y1="286.90" x2="224.40" y2="249.40" stroke="#262626" stroke-width="0.55" />
<line x1="314.50" y1="291.10" x2="314.50" y2="253.60" stroke="#262626" stroke-width="0.55" />
<text x="221.60" y="251.15" font-size="9.4" text-anchor="end"  class="tk">0.2</text>
<text x="221.60" y="269.40" font-size="9.4" text-anchor="end"  class="tk">0</text>
<text x="221.60" y="288.10" font-size="9.4" text-anchor="end"  class="tk">−0.2</text>
<text x="220.40" y="297.00" font-size="9.4" text-anchor="end"  class="tk">0.2</text>
<text x="240.90" y="305.80" font-size="9.4" text-anchor="end"  class="tk">0</text>
<text x="260.20" y="314.70" font-size="9.4" text-anchor="end"  class="tk">−0.2</text>
<text x="268.00" y="314.80" font-size="9.4" text-anchor="start"  class="tk">−0.2</text>
<text x="293.30" y="308.10" font-size="9.4" text-anchor="start"  class="tk">0</text>
<text x="318.90" y="301.80" font-size="9.4" text-anchor="start"  class="tk">0.2</text>
<text x="214.50" y="321.70" font-size="10.5" text-anchor="start" font-style="italic">k<tspan font-size="6.93" dy="1.26" dx="0.5">y</tspan></text>
<text x="308.00" y="322.30" font-size="10.5" text-anchor="start" font-style="italic">k<tspan font-size="6.93" dy="1.26" dx="0.5">x</tspan></text>
<text x="197.90" y="268.80" font-size="10.5" text-anchor="middle" font-style="italic" transform="rotate(-90 197.90 268.80)">k<tspan font-size="6.93" dy="1.26" dx="0.5">z</tspan></text>
<text x="224.70" y="232.70" font-size="11.7" textLength="100.4" lengthAdjust="spacingAndGlyphs">3D Analytical solution</text>
<rect x="332.2" y="236.4" width="10.60" height="68.50" fill="url(#jetgrad)"/>
<text x="346.00" y="249.90" font-size="9.4" text-anchor="start"  class="tk">15</text>
<text x="346.00" y="269.40" font-size="9.4" text-anchor="start"  class="tk">10</text>
<text x="346.00" y="289.00" font-size="9.4" text-anchor="start"  class="tk">5</text>
<text x="343.7" y="233.8" font-size="9.6" class="tk">×<tspan dx="0.4">10</tspan><tspan font-size="6.8" dy="-3.8">4</tspan></text>
<line x1="409.40" y1="286.90" x2="460.30" y2="273.54" stroke="#262626" stroke-width="0.55" />
<line x1="460.30" y1="273.54" x2="499.50" y2="291.10" stroke="#262626" stroke-width="0.55" />
<line x1="460.30" y1="273.54" x2="460.30" y2="236.04" stroke="#262626" stroke-width="0.55" />
<line x1="409.40" y1="249.40" x2="460.30" y2="236.04" stroke="#262626" stroke-width="0.55" />
<line x1="460.30" y1="236.04" x2="499.50" y2="253.60" stroke="#262626" stroke-width="0.55" />
<polygon points="409.40,268.15 460.30,254.79 499.50,272.35 448.60,285.71" fill="#0a12f2" />
<polygon points="434.85,242.72 474.05,260.28 474.05,297.78 434.85,280.22" fill="#0a12f2" />
<polygon points="479.90,244.82 429.00,258.18 429.00,295.68 479.90,282.32" fill="#0a12f2" />
<polygon points="429.00,258.18 454.45,251.50 474.05,260.28 474.05,279.03 448.60,285.71 429.00,276.93" fill="#0a0ee8" />
<polygon points="474.05,279.03 479.90,277.50 479.90,282.32 474.05,283.85" fill="#0808c4" />
<line x1="429.00" y1="295.68" x2="429.00" y2="258.18" stroke="#3a80ff" stroke-width="0.8" />
<line x1="429.00" y1="258.18" x2="454.45" y2="251.50" stroke="#3a80ff" stroke-width="0.8" />
<line x1="454.45" y1="251.50" x2="474.05" y2="260.28" stroke="#3a80ff" stroke-width="0.8" />
<line x1="474.05" y1="260.28" x2="474.05" y2="297.78" stroke="#3a80ff" stroke-width="0.8" />
<line x1="429.00" y1="276.93" x2="448.60" y2="285.71" stroke="#3a80ff" stroke-width="0.8" />
<line x1="448.60" y1="285.71" x2="474.05" y2="279.03" stroke="#3a80ff" stroke-width="0.8" />
<line x1="409.40" y1="286.90" x2="448.60" y2="304.46" stroke="#262626" stroke-width="0.55" />
<line x1="448.60" y1="304.46" x2="499.50" y2="291.10" stroke="#262626" stroke-width="0.55" />
<line x1="409.40" y1="286.90" x2="409.40" y2="249.40" stroke="#262626" stroke-width="0.55" />
<line x1="499.50" y1="291.10" x2="499.50" y2="253.60" stroke="#262626" stroke-width="0.55" />
<text x="406.60" y="251.15" font-size="9.4" text-anchor="end"  class="tk">0.2</text>
<text x="406.60" y="269.40" font-size="9.4" text-anchor="end"  class="tk">0</text>
<text x="406.60" y="288.10" font-size="9.4" text-anchor="end"  class="tk">−0.2</text>
<text x="405.40" y="297.00" font-size="9.4" text-anchor="end"  class="tk">0.2</text>
<text x="425.90" y="305.80" font-size="9.4" text-anchor="end"  class="tk">0</text>
<text x="445.20" y="314.70" font-size="9.4" text-anchor="end"  class="tk">−0.2</text>
<text x="453.00" y="314.80" font-size="9.4" text-anchor="start"  class="tk">−0.2</text>
<text x="478.30" y="308.10" font-size="9.4" text-anchor="start"  class="tk">0</text>
<text x="503.90" y="301.80" font-size="9.4" text-anchor="start"  class="tk">0.2</text>
<text x="399.50" y="321.70" font-size="10.5" text-anchor="start" font-style="italic">k<tspan font-size="6.93" dy="1.26" dx="0.5">y</tspan></text>
<text x="493.00" y="322.30" font-size="10.5" text-anchor="start" font-style="italic">k<tspan font-size="6.93" dy="1.26" dx="0.5">x</tspan></text>
<text x="382.90" y="268.80" font-size="10.5" text-anchor="middle" font-style="italic" transform="rotate(-90 382.90 268.80)">k<tspan font-size="6.93" dy="1.26" dx="0.5">z</tspan></text>
<text x="412.80" y="232.70" font-size="11.7" textLength="94.4" lengthAdjust="spacingAndGlyphs">3D Relative error(%)</text>
<rect x="517.5" y="236.4" width="10.70" height="68.50" fill="url(#jetgrad)"/>
<text x="530.70" y="245.60" font-size="9.4" text-anchor="start"  class="tk">0.8</text>
<text x="530.70" y="259.80" font-size="9.4" text-anchor="start"  class="tk">0.6</text>
<text x="530.70" y="273.90" font-size="9.4" text-anchor="start"  class="tk">0.4</text>
<text x="530.70" y="288.00" font-size="9.4" text-anchor="start"  class="tk">0.2</text>
<text x="530.70" y="302.00" font-size="9.4" text-anchor="start"  class="tk">0</text>
</svg></body></html>
